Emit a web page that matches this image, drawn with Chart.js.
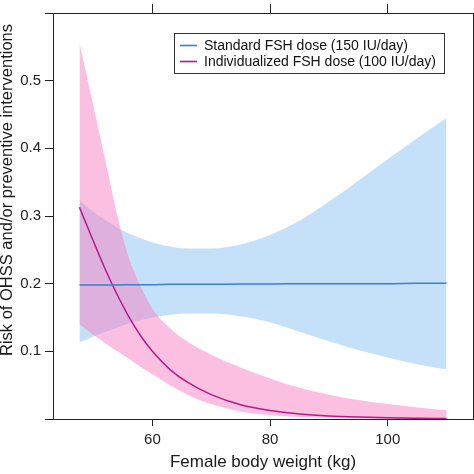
<!DOCTYPE html>
<html>
<head>
<meta charset="utf-8">
<script src="https://cdn.jsdelivr.net/npm/chart.js@4.4.1/dist/chart.umd.min.js"></script>
<style>
html,body{margin:0;padding:0;background:#fff;}
#wrap{width:474px;height:474px;position:relative;}
</style>
</head>
<body>
<div id="wrap"><canvas id="c" width="474" height="474"></canvas></div>
<script>
// ---- data ----
const weights = [47.6, 50, 52, 54, 56, 58, 60, 63, 66, 70, 75, 80, 85, 90, 95, 100, 105, 110];
const standardRisk  = [0.198,0.198,0.198,0.198,0.1985,0.1985,0.1985,0.199,0.199,0.199,0.1995,0.1995,0.2,0.2,0.2,0.2,0.2005,0.2005];
const standardUpper = [0.323,0.306,0.294,0.283,0.274,0.267,0.261,0.255,0.252,0.252,0.258,0.272,0.293,0.321,0.352,0.384,0.415,0.445];
const standardLower = [0.113,0.122,0.129,0.135,0.141,0.146,0.150,0.154,0.156,0.156,0.152,0.143,0.129,0.115,0.102,0.091,0.081,0.073];
const individualRisk  = [0.313,0.262,0.221,0.184,0.151,0.123,0.100,0.073,0.054,0.036,0.021,0.0125,0.0075,0.0045,0.0028,0.0017,0.001,0.0006];
const individualUpper = [0.555,0.461,0.382,0.302,0.238,0.196,0.163,0.134,0.114,0.095,0.076,0.060,0.046,0.036,0.028,0.022,0.017,0.013];
const individualLower = [0.140,0.124,0.112,0.100,0.089,0.077,0.066,0.050,0.036,0.022,0.011,0.0055,0.003,0.0015,0.0008,0.0004,0.0002,0.0001];
const seriesLabels = ['Standard FSH dose (150 IU/day)', 'Individualized FSH dose (100 IU/day)'];
const xTicks = [60, 80, 100];
const yTicks = [0, 0.1, 0.2, 0.3, 0.4, 0.5, 0.6];
const yTickLabels = ['', '0.1', '0.2', '0.3', '0.4', '0.5', ''];
const xTitle = 'Female body weight (kg)';
const yTitle = 'Risk of OHSS and/or preventive interventions';

const FONT = '"Liberation Sans", Arial, sans-serif';
const BLUE = '#3a80d4';
const PINK = '#b31c88';
const pts = arr => weights.map((w, i) => ({x: w, y: arr[i]}));

const legendPlugin = {
  id: 'customLegend',
  afterDraw(chart) {
    const ctx = chart.ctx;
    ctx.save();
    ctx.strokeStyle = '#333';
    ctx.lineWidth = 1;
    ctx.strokeRect(174.5, 33.5, 270, 40);
    const cols = [BLUE, PINK];
    const ys = [45.5, 61.5];
    ctx.font = '14px ' + FONT;
    ctx.textBaseline = 'middle';
    ctx.fillStyle = '#111';
    for (let i = 0; i < 2; i++) {
      ctx.strokeStyle = cols[i];
      ctx.lineWidth = 1.6;
      ctx.beginPath();
      ctx.moveTo(180, ys[i]);
      ctx.lineTo(197, ys[i]);
      ctx.stroke();
      ctx.fillText(seriesLabels[i], 204, ys[i] + 0.5);
    }
    // y axis title
    ctx.translate(7, 190);
    ctx.rotate(-Math.PI / 2);
    ctx.textAlign = 'center';
    ctx.font = '16.5px ' + FONT;
    ctx.fillStyle = '#1a1a1a';
    ctx.fillText(yTitle, 0, 0);
    ctx.restore();
  }
};

const bandBase = {pointRadius: 0, cubicInterpolationMode: 'monotone', borderColor: 'transparent', borderWidth: 0};
const lineBase = {pointRadius: 0, cubicInterpolationMode: 'monotone', borderWidth: 1.5, fill: false};

new Chart(document.getElementById('c'), {
  type: 'line',
  data: {
    datasets: [
      Object.assign({label: seriesLabels[0], data: pts(standardRisk), borderColor: BLUE}, lineBase),
      Object.assign({label: seriesLabels[1], data: pts(individualRisk), borderColor: PINK}, lineBase),
      Object.assign({label: 'iu', data: pts(individualUpper), backgroundColor: 'rgba(246,128,196,0.5)', fill: '+1'}, bandBase),
      Object.assign({label: 'il', data: pts(individualLower), fill: false}, bandBase),
      Object.assign({label: 'su', data: pts(standardUpper), backgroundColor: 'rgba(140,195,245,0.5)', fill: '+1'}, bandBase),
      Object.assign({label: 'sl', data: pts(standardLower), fill: false}, bandBase)
    ]
  },
  options: {
    responsive: false,
    animation: false,
    devicePixelRatio: 1,
    layout: {padding: 0},
    plugins: {legend: {display: false}, tooltip: {enabled: false}},
    scales: {
      x: {
        type: 'linear', position: 'bottom', min: 43.1, max: 114.5,
        afterBuildTicks: s => { s.ticks = xTicks.map(v => ({value: v})); },
        afterFit: s => { s.height = 55; },
        grid: {drawOnChartArea: false, drawTicks: true, tickLength: 7, color: '#222', tickWidth: 1},
        border: {display: true, color: '#222', width: 1},
        ticks: {font: {family: FONT, size: 15}, color: '#222', padding: 5, maxRotation: 0, callback: v => String(v)},
        title: {display: true, text: xTitle, font: {family: FONT, size: 17}, color: '#1a1a1a', padding: {top: 0, bottom: 1}}
      },
      x2: {
        type: 'linear', position: 'top', min: 43.1, max: 114.5,
        afterBuildTicks: s => { s.ticks = xTicks.map(v => ({value: v})); },
        afterFit: s => { s.height = 9; },
        grid: {drawOnChartArea: false, drawTicks: true, tickLength: 9, color: '#222'},
        border: {display: true, color: '#222', width: 1},
        ticks: {display: false}
      },
      y: {
        type: 'linear', position: 'left', min: 0, max: 0.6,
        afterBuildTicks: s => { s.ticks = yTicks.map(v => ({value: v})); },
        afterFit: s => { s.width = 53; },
        grid: {drawOnChartArea: false, drawTicks: true, tickLength: 8, color: '#222'},
        border: {display: true, color: '#222', width: 1},
        ticks: {font: {family: FONT, size: 15}, color: '#222', padding: 4, callback: (v) => yTickLabels[yTicks.indexOf(Math.round(v * 10) / 10)]}
      },
      y2: {
        type: 'linear', position: 'right', min: 0, max: 0.6,
        afterFit: s => { s.width = 1; },
        grid: {display: false, drawTicks: false},
        border: {display: true, color: '#222', width: 1},
        ticks: {display: false}
      }
    }
  },
  plugins: [legendPlugin]
});
</script>
</body>
</html>
